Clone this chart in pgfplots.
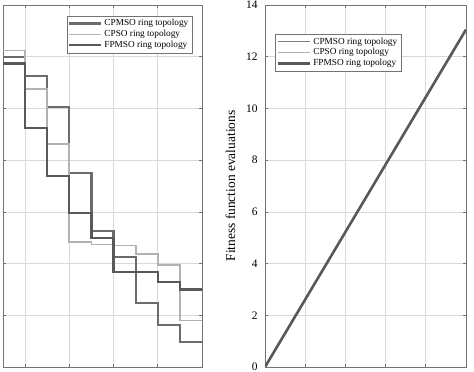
\documentclass[border=0pt]{standalone}
\usepackage{fontspec}
\setmainfont{Liberation Serif}
\usepackage{pgfplots}
\pgfplotsset{compat=1.18}
\definecolor{cpmso}{gray}{0.42}
\definecolor{cpso}{gray}{0.70}
\definecolor{fpmso}{gray}{0.35}
\definecolor{framec}{gray}{0.45}
\definecolor{gridc}{gray}{0.85}
\pgfplotsset{
  myaxis/.style={
    scale only axis,
    anchor=south west,
    grid=major,
    major grid style={gridc, line width=0.7pt},
    axis line style={framec, line width=0.9pt},
    tick style={framec, line width=0.7pt},
    tick align=inside,
    major tick length=3bp,
    /pgf/number format/assume math mode=true,
    tick label style={font=\fontsize{11.5}{13}\selectfont},
    legend cell align=left,
    legend style={draw=framec, fill=white,
      font=\fontsize{9.3}{11}\selectfont, inner sep=1.5bp, row sep=-1bp},
    legend image code/.code={\draw[#1] plot coordinates {(0bp,0bp) (16bp,0bp) (32bp,0bp)};},
  }
}
\begin{document}
\begin{tikzpicture}
\useasboundingbox (0,0) rectangle (474bp,372bp);
\begin{axis}[myaxis, at={(3bp,5bp)}, width=199bp, height=362bp,
  xmin=0, xmax=9, ymin=0, ymax=7,
  xtick={1,3,5,7}, ytick={1,2,3,4,5,6},
  xticklabels={}, yticklabels={},
  legend style={at={(0.95,0.97)}, anchor=north east}]
\addplot[const plot, color=cpmso, line width=2.2pt] coordinates {(0,6.00) (1,5.62) (2,5.02) (3,3.75) (4,2.63) (5,2.12) (6,1.23) (7,0.81) (8,0.48) (9,0.48)};
\addplot[const plot, color=cpso, line width=1.8pt] coordinates {(0,6.12) (1,5.38) (2,4.31) (3,2.42) (4,2.37) (5,2.35) (6,2.19) (7,1.98) (8,0.90) (9,0.90)};
\addplot[const plot, color=fpmso, line width=2.2pt] coordinates {(0,5.87) (1,4.62) (2,3.69) (3,2.98) (4,2.50) (5,1.83) (6,1.83) (7,1.65) (8,1.50) (9,1.50)};
\legend{CPMSO ring topology, CPSO ring topology, FPMSO ring topology}
\end{axis}
\begin{axis}[myaxis, at={(265bp,5bp)}, width=201bp, height=362bp,
  xmin=0, xmax=5, ymin=0, ymax=14,
  xtick={1,2,3,4}, xticklabels={},
  ytick={0,2,4,6,8,10,12,14},
  yticklabel style={xshift=-4bp},
  ylabel={Fitness function evaluations},
  ylabel shift=4bp,
  ylabel style={font=\fontsize{13.5}{15}\selectfont},
  legend style={at={(0.05,0.92)}, anchor=north west}]
\addplot[color=gray, line width=1.6pt] coordinates {(0,0) (5,13.05)};
\addplot[color=cpso, line width=1.3pt] coordinates {(0,0) (5,13.05)};
\addplot[color=fpmso, line width=2.6pt] coordinates {(0,0) (5,13.05)};
\legend{CPMSO ring topology, CPSO ring topology, FPMSO ring topology}
\end{axis}
\end{tikzpicture}
\end{document}
